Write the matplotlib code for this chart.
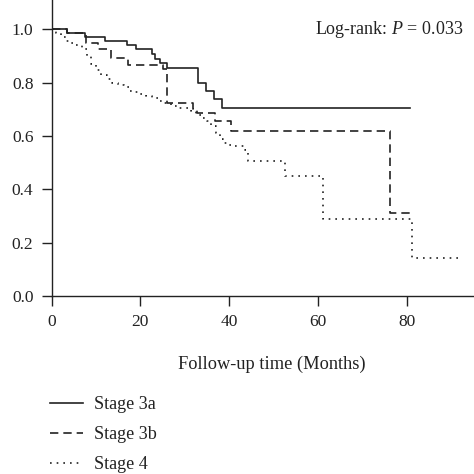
import matplotlib
matplotlib.use('Agg')
from matplotlib import pyplot as plt

# Kaplan-Meier step data (months, survival after event)
t_3a = [0, 3.4, 7.5, 12.1, 16.9, 19.1, 22.6, 23.4, 24.4, 26.1, 33.0, 34.7, 36.5, 38.4, 80.8]
s_3a = [1.0, 0.986, 0.971, 0.957, 0.941, 0.928, 0.906, 0.89, 0.875, 0.855, 0.80, 0.77, 0.738, 0.704, 0.704]

t_3b = [0, 3.4, 7.8, 10.4, 13.4, 17.2, 25.1, 25.9, 31.9, 32.8, 36.7, 40.5, 76.1, 80.8]
s_3b = [1.0, 0.986, 0.95, 0.927, 0.892, 0.866, 0.85, 0.722, 0.70, 0.685, 0.657, 0.62, 0.31, 0.31]

t_4 = [0, 1.0, 2.2, 3.3, 4.5, 5.6, 6.8, 7.9, 9.0, 10.1, 11.2, 12.4, 13.6, 15.0, 16.4,
       17.5, 18.8, 20.0, 21.3, 22.6, 24.0, 25.2, 26.8, 28.3, 31.3, 32.6, 33.7, 34.9,
       36.0, 37.1, 37.9, 38.6, 39.8, 41.0, 43.5, 44.3, 52.5, 61.1, 81.1, 92.2]
s_4 = [1.0, 0.985, 0.97, 0.958, 0.95, 0.94, 0.925, 0.90, 0.87, 0.848, 0.828, 0.815, 0.797,
       0.79, 0.783, 0.77, 0.765, 0.758, 0.751, 0.742, 0.733, 0.725, 0.712, 0.704, 0.692,
       0.68, 0.667, 0.655, 0.637, 0.612, 0.588, 0.575, 0.567, 0.562, 0.548, 0.505, 0.45,
       0.29, 0.141, 0.141]

labels = ['Stage 3a', 'Stage 3b', 'Stage 4']
x_ticks = [0, 20, 40, 60, 80]
y_ticks = [0.0, 0.2, 0.4, 0.6, 0.8, 1.0]

plt.rcParams['font.family'] = ['Liberation Serif', 'DejaVu Serif']
plt.rcParams['font.size'] = 12.5
plt.rcParams['mathtext.fontset'] = 'custom'
plt.rcParams['mathtext.rm'] = 'Liberation Serif'
plt.rcParams['mathtext.it'] = 'Liberation Serif:italic'

fig = plt.figure(figsize=(4.74, 4.74), dpi=100)
W = 474.0
ax = fig.add_axes([51.5 / W, 178 / W, 1 - 51.5 / W, 1 - 178 / W])

col = '#222222'
l1, = ax.step(t_3a, s_3a, where='post', color=col, lw=1.2, ls='-')
l2, = ax.step(t_3b, s_3b, where='post', color=col, lw=1.2, ls=(0, (5, 3)))
l3, = ax.step(t_4, s_4, where='post', color=col, lw=1.2, ls=(0, (1, 3)))

ax.set_xlim(0, 95.1)
ax.set_ylim(0, 1.11)
ax.set_xticks(x_ticks)
ax.set_yticks(y_ticks)
ax.set_yticklabels(['%.1f' % v for v in y_ticks])
ax.tick_params(direction='out', length=7, width=1.0, color=col, labelcolor=col, labelsize=12.5)
ax.tick_params(axis='x', pad=6)
ax.tick_params(axis='y', pad=6)
for side in ['top', 'right']:
    ax.spines[side].set_visible(False)
for side in ['left', 'bottom']:
    ax.spines[side].set_color(col)
    ax.spines[side].set_linewidth(1.0)

ax.set_xlabel('Follow-up time (Months)', color=col, va='center', fontsize=13.2)
ax.xaxis.set_label_coords(0.522, -0.232)

ax.text(92.7, 1.0, 'Log-rank: $P$ = 0.033', ha='right', va='center', color=col, fontsize=13)

fig.legend([l1, l2, l3], labels, loc='upper left', bbox_to_anchor=(50 / W, 1 - 396 / W),
           frameon=False, borderpad=0, borderaxespad=0, handlelength=1.8,
           handletextpad=0.62, labelspacing=0.72, labelcolor=col, fontsize=13)

fig.savefig('out.png', dpi=100)
